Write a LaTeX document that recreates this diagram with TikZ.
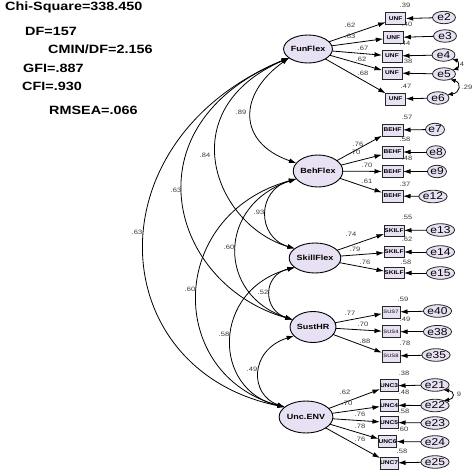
\documentclass[tikz,border=0pt]{standalone}
\usepackage{fontspec}
\setmainfont{Liberation Sans}[FakeStretch=1.2]
\usetikzlibrary{arrows.meta,shapes.geometric}
\definecolor{lav}{RGB}{232,225,244}
\definecolor{lbl}{RGB}{55,55,55}
\begin{document}
\begin{tikzpicture}[x=1pt,y=-1pt,
  >={Latex[length=7.5pt,width=4.8pt]},
  lat/.style={ellipse, draw=black, line width=0.9pt, fill=lav, inner sep=0pt, outer sep=0pt,
    minimum width=40pt, minimum height=31pt, font=\fontsize{7.5}{8}\selectfont\bfseries},
  obs/.style={rectangle, draw=black!85, line width=0.8pt, fill=lav, inner sep=0pt, outer sep=0pt,
    minimum width=20pt, minimum height=12pt, font=\fontsize{5.5}{5.5}\selectfont\bfseries},
  obsr/.style={obs, font=\fontsize{4.8}{5}\selectfont},
  err/.style={ellipse, draw=black!85, line width=0.8pt, fill=lav, inner sep=0pt, outer sep=0pt,
    minimum width=19pt, minimum height=12.5pt, font=\fontsize{10}{10}\selectfont},
  ld/.style={font=\fontsize{6.3}{6.3}\selectfont, text=lbl, inner sep=0pt},
  fitstat/.style={font=\fontsize{12}{12}\selectfont\bfseries, anchor=base west, inner sep=0pt},
  one/.style={->, line width=0.8pt},
  two/.style={<->, line width=0.8pt},
  small/.style={{Latex[length=5.5pt,width=4.5pt]}-{Latex[length=5.5pt,width=4.5pt]}, line width=0.8pt},
]
\fill[white] (0,0) rectangle (474,474);
\useasboundingbox (0,0) rectangle (474,474);

% fit statistics
\node[fitstat] (chi) at (5,10.5) {Chi-Square=338.450};
\node[fitstat] (df) at (25,35) {DF=157};
\node[fitstat] (cmin) at (48,53.5) {CMIN/DF=2.156};
\node[fitstat] (gfi) at (23,72) {GFI=.887};
\node[fitstat] (cfi) at (22,90) {CFI=.930};
\node[fitstat] (rmsea) at (49,114) {RMSEA=.066};

% variance labels (drawn first, partly under boxes)
\foreach \x/\y/\t in {405/5/.39, 407/24/.40, 405/43/.44, 407/61/.38, 406/86/.47,
  407/117/.57, 405/139/.58, 407/158/.48, 405/184/.37,
  407/217/.55, 407/239/.62, 406/262/.58,
  403/299/.59, 405/319/.49, 405/343/.78,
  404/373/.38, 404/392/.48, 404/411/.58, 403/429/.60, 402/451/.58}
  \node[ld] at (\x,\y) {\t};

% latent variables
\node[lat, minimum width=38pt, minimum height=28pt] (Fun) at (308,49) {FunFlex};
\node[lat, minimum height=32pt] (Beh) at (318,171) {BehFlex};
\node[lat, minimum height=30pt] (Skill) at (315,258) {SkillFlex};
\node[lat, minimum height=31pt] (Sust) at (313,327) {SustHR};
\node[lat, minimum height=32pt] (Unc) at (306,417) {Unc.ENV};

% observed: FunFlex
\node[obs] (f1) at (395.7,18.8) {UNF};
\node[obs] (f2) at (393.3,37.5) {UNF};
\node[obs] (f3) at (392,56) {UNF};
\node[obs] (f4) at (392,73) {UNF};
\node[obs] (f5) at (395.7,99) {UNF};
\node[err, minimum width=23pt] (e2) at (444,17.5) {e2};
\node[err, minimum width=23pt] (e3) at (445,36) {e3};
\node[err, minimum width=23pt] (e4) at (443.5,55) {e4};
\node[err, minimum width=23pt] (e5) at (444,74) {e5};
\node[err, minimum width=22pt] (e6) at (438,98) {e6};

% observed: BehFlex
\node[obs, minimum width=21pt] (b1) at (392.5,130) {BEHF};
\node[obs, minimum width=21pt] (b2) at (392.5,152) {BEHF};
\node[obs, minimum width=21pt] (b3) at (392.5,171.5) {BEHF};
\node[obs, minimum width=21pt] (b4) at (392.5,196) {BEHF};
\node[err, minimum width=19pt] (e7) at (435,129.5) {e7};
\node[err, minimum width=19pt] (e8) at (436,152) {e8};
\node[err, minimum width=19pt] (e9) at (437,171.5) {e9};
\node[err, minimum width=19pt] (e12) at (433,196.5) {e12};

% observed: SkillFlex
\node[obs, minimum height=11pt] (s1) at (394,230.5) {SKILF};
\node[obs, minimum height=11pt] (s2) at (394,252) {SKILF};
\node[obs, minimum height=11pt] (s3) at (394,273) {SKILF};
\node[err, minimum width=19pt] (e13) at (440.5,230) {e13};
\node[err, minimum width=19pt] (e14) at (440.5,252) {e14};
\node[err, minimum width=19pt] (e15) at (440.5,273) {e15};

% observed: SustHR
\node[obsr, minimum width=18pt] (h1) at (391,312) {SUS7};
\node[obsr, minimum width=18pt] (h2) at (391,331.7) {SUS4};
\node[obsr, minimum width=18pt] (h3) at (391,356) {SUS8};
\node[err] (e40) at (437.5,311) {e40};
\node[err] (e38) at (437.5,331.7) {e38};
\node[err] (e35) at (436,355) {e35};

% observed: Unc.ENV
\node[obs, minimum width=18pt] (u1) at (389,385.8) {UNC3};
\node[obs, minimum width=18pt] (u2) at (389,405.3) {UNC4};
\node[obs, minimum width=18pt] (u3) at (389,422.5) {UNC5};
\node[obs, minimum width=18pt] (u4) at (387.5,441.5) {UNC6};
\node[obs, minimum width=18pt] (u5) at (389,463) {UNC7};
\node[err, minimum width=19pt] (e21) at (435,385) {e21};
\node[err, minimum width=19pt] (e22) at (435,405.5) {e22};
\node[err, minimum width=19pt] (e23) at (435,423) {e23};
\node[err, minimum width=19pt] (e24) at (435,442) {e24};
\node[err, minimum width=19pt] (e25) at (435,462) {e25};

% loadings
\foreach \b in {f1,f2,f3,f4,f5} \draw[one] (Fun) -- (\b);
\foreach \b in {b1,b2,b3,b4} \draw[one] (Beh) -- (\b);
\foreach \b in {s1,s2,s3} \draw[one] (Skill) -- (\b);
\foreach \b in {h1,h2,h3} \draw[one] (Sust) -- (\b);
\foreach \b in {u1,u2,u3,u4,u5} \draw[one] (Unc) -- (\b);

% error arrows
\foreach \e/\b in {e2/f1,e3/f2,e4/f3,e5/f4,e6/f5,e7/b1,e8/b2,e9/b3,e12/b4,
  e13/s1,e14/s2,e15/s3,e40/h1,e38/h2,e35/h3,e21/u1,e22/u2,e23/u3,e24/u4,e25/u5}
  \draw[one] (\e) -- (\b);

% loading labels
\foreach \x/\y/\t in {350/25/.62, 350/36/.63, 363/48/.67, 361/59/.62, 363/73/.68,
  358/144/.76, 355/152/.70, 367/165/.70, 367/181/.61,
  351/234/.74, 355/249/.79, 365/262/.76,
  350/313/.77, 363/324/.70, 365/341/.88,
  345/392/.62, 347/403/.70, 360/414/.76, 360/426/.78, 360/439/.76}
  \node[ld] at (\x,\y) {\t};

% error covariances
\draw[small] (e4.-25) .. controls (459,61) and (459,68) .. (e5.25);
\draw[small] (e5.-40) .. controls (462,83) and (460,93) .. (e6.20);
\draw[small] (e21.-30) .. controls (455,391) and (455,399) .. (e22.30);
\node[ld] (c45) at (462,64.5) {4};
\node[ld] (c56) at (467,87) {.29};
\node[ld] (c2122) at (459,394) {9};

% latent correlations
\draw[two] (Fun.205) .. controls (237.5,94.5) and (237.5,142.6) .. (Beh.160);
\draw[two] (Fun.205) .. controls (170,110) and (215,225) .. (Skill.155);
\draw[two] (Fun.205) .. controls (125,125) and (170,285) .. (Sust.160);
\draw[two] (Fun.205) .. controls (90,140) and (103,370) .. (Unc.155);
\draw[two] (Beh.200) .. controls (256.4,190) and (256.4,237) .. (Skill.155);
\draw[two] (Beh.200) .. controls (216.9,205) and (216.9,295) .. (Sust.160);
\draw[two] (Beh.200) .. controls (166,215) and (166,375) .. (Unc.155);
\draw[two] (Skill.205) .. controls (262.5,275) and (262.5,310) .. (Sust.160);
\draw[two] (Skill.205) .. controls (211.6,290) and (211.6,390) .. (Unc.155);
\draw[two] (Sust.205) .. controls (249.2,350) and (249.2,395) .. (Unc.155);

% correlation labels
\foreach \x/\y/\t in {241/112/.89, 205/155/.84, 176/190/.63, 137/232/.63,
  259/212/.93, 229/247/.60, 190/289/.60, 263/292/.52, 224/334/.58, 252/369/.49}
  \node[ld] at (\x,\y) {\t};
\end{tikzpicture}
\end{document}
